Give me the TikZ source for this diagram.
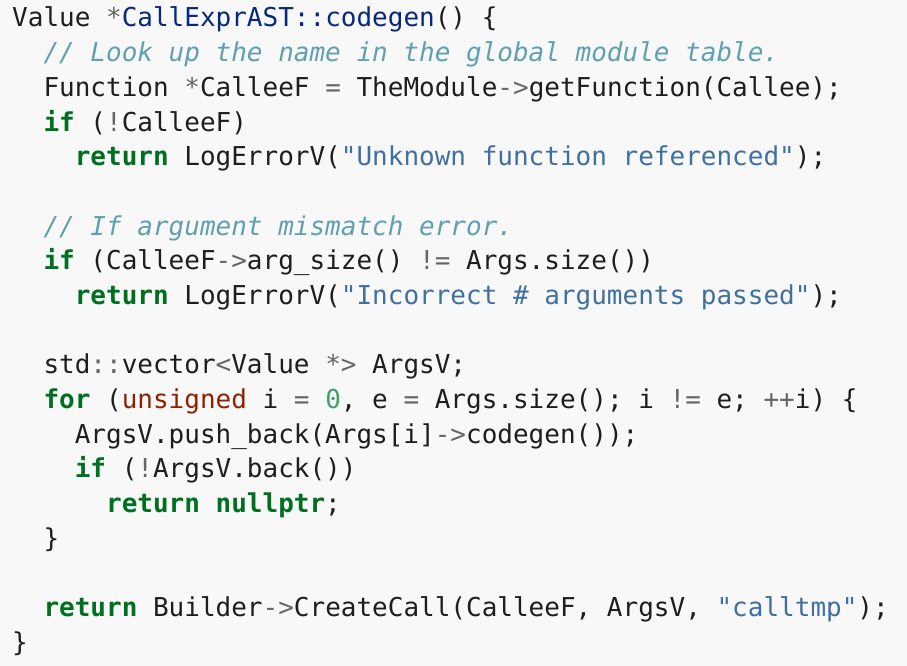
\documentclass[tikz,border=0pt]{standalone}
\usepackage{fontspec}
\setmonofont{DejaVu Sans Mono}
\definecolor{codebg}{HTML}{F8F8F8}
\definecolor{codetxt}{HTML}{1E1E1E}
\definecolor{kwcol}{HTML}{007020}
\definecolor{tycol}{HTML}{902000}
\definecolor{stcol}{HTML}{4070A0}
\definecolor{cmcol}{HTML}{60A0B0}
\definecolor{opcol}{HTML}{666666}
\definecolor{fncol}{HTML}{06287E}
\definecolor{nmcol}{HTML}{40A070}
\newcommand{\kw}[1]{\textcolor{kwcol}{\bfseries #1}}
\newcommand{\ty}[1]{\textcolor{tycol}{#1}}
\newcommand{\st}[1]{\textcolor{stcol}{#1}}
\newcommand{\cm}[1]{\textcolor{cmcol}{\itshape #1}}
\newcommand{\op}[1]{\textcolor{opcol}{#1}}
\newcommand{\fn}[1]{\textcolor{fncol}{#1}}
\newcommand{\nm}[1]{\textcolor{nmcol}{#1}}
\tikzset{
  codeline/.style={anchor=base west, inner sep=0, text=codetxt,
    font=\fontsize{26pt}{34.67pt}\ttfamily},
}
% x: 12pt + indent * 15.65pt, y: baseline of line k
\newcommand{\codeln}[4]{\node[codeline] (#1) at ({12pt+#2*15.65pt},{666pt-27pt-#3*34.67pt}) {#4};}
\begin{document}
\begin{tikzpicture}[x=1pt,y=1pt]
  \fill[codebg] (0,0) rectangle (907,666);
  \useasboundingbox (0,0) rectangle (907,666);
  \codeln{l1}{0}{0}{Value \op{*}\fn{CallExprAST::codegen}() \{}
  \codeln{l2}{2}{1}{\cm{// Look up the name in the global module table.}}
  \codeln{l3}{2}{2}{Function \op{*}CalleeF \op{=} TheModule\op{->}getFunction(Callee);}
  \codeln{l4}{2}{3}{\kw{if} (\op{!}CalleeF)}
  \codeln{l5}{4}{4}{\kw{return} LogErrorV(\st{"Unknown function referenced"});}
  \codeln{l7}{2}{6}{\cm{// If argument mismatch error.}}
  \codeln{l8}{2}{7}{\kw{if} (CalleeF\op{->}arg\_size() \op{!=} Args.size())}
  \codeln{l9}{4}{8}{\kw{return} LogErrorV(\st{"Incorrect \# arguments passed"});}
  \codeln{l11}{2}{10}{std\op{::}vector\op{<}Value \op{*}\op{>} ArgsV;}
  \codeln{l12}{2}{11}{\kw{for} (\ty{unsigned} i \op{=} \nm{0}, e \op{=} Args.size(); i \op{!=} e; \op{++}i) \{}
  \codeln{l13}{4}{12}{ArgsV.push\_back(Args[i]\op{->}codegen());}
  \codeln{l14}{4}{13}{\kw{if} (\op{!}ArgsV.back())}
  \codeln{l15}{6}{14}{\kw{return} \kw{nullptr};}
  \codeln{l16}{2}{15}{\}}
  \codeln{l18}{2}{17}{\kw{return} Builder\op{->}CreateCall(CalleeF, ArgsV, \st{"calltmp"});}
  \codeln{l19}{0}{18}{\}}
\end{tikzpicture}
\end{document}
